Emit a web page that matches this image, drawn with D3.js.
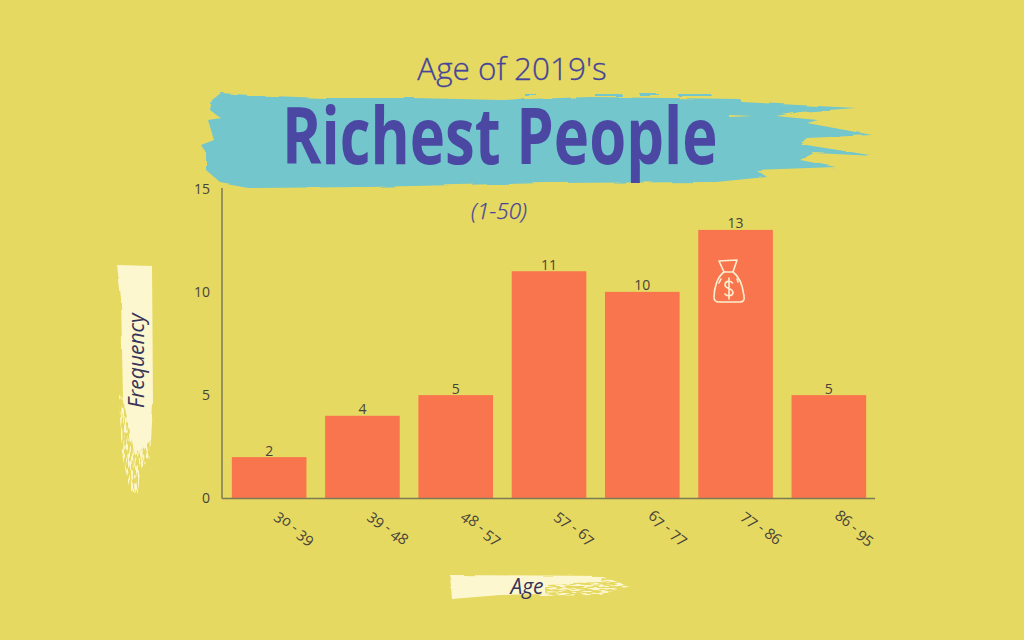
<!DOCTYPE html>
<html><head><meta charset="utf-8">
<script src="https://cdn.jsdelivr.net/npm/d3@7"></script>
<style>
html,body{margin:0;padding:0;background:#e6d961;overflow:hidden}
svg{display:block}
text{font-family:"Open Sans",sans-serif}
.tick text{fill:#46443a;font-size:14px}
.x .tick text{font-family:"Open Sans",sans-serif;font-size:15px;font-variant-numeric:oldstyle-nums;font-feature-settings:"onum"}
</style></head><body>
<svg id="c" width="1024" height="640"></svg>
<script>
const categories=["30 - 39","39 - 48","48 - 57","57 - 67","67 - 77","77 - 86","86 - 95"];
const frequency=[2,4,5,11,10,13,5];
const yTicks=[0,5,10,15];
const svg=d3.select("#c");
svg.append("rect").attr("width",1024).attr("height",640).attr("fill","#e6d961");
const defs=svg.append("defs");
function rough(id,freq,scale){
  const f=defs.append("filter").attr("id",id).attr("x","-5%").attr("y","-15%").attr("width","110%").attr("height","130%");
  f.append("feTurbulence").attr("type","fractalNoise").attr("baseFrequency",freq).attr("numOctaves",2).attr("seed",4).attr("result","n");
  f.append("feDisplacementMap").attr("in","SourceGraphic").attr("in2","n").attr("scale",scale);
}
function dry(id,freq){
  const f=defs.append("filter").attr("id",id).attr("x","-10%").attr("y","-10%").attr("width","120%").attr("height","120%");
  f.append("feTurbulence").attr("type","fractalNoise").attr("baseFrequency",freq).attr("numOctaves",2).attr("seed",7);
  f.append("feColorMatrix").attr("values","0 0 0 0 0 0 0 0 0 0 0 0 0 0 0 6 0 0 0 -2.7").attr("result","m");
  f.append("feComposite").attr("in","SourceGraphic").attr("in2","m").attr("operator","in");
}
rough("roughH","0.03 0.15",3);
rough("roughV","0.15 0.03",3);
dry("dryV","0.6 0.12");
dry("dryH","0.12 0.6");

// brush strokes
const blue=svg.append("g").attr("fill","#72c6cc").attr("filter","url(#roughH)");
blue.append("path").attr("d","M221 93 L248 95 L324 98 L413 98 L502 100 L591 97 L740 99 L742 102 L856 108 L800 112 L776 116 L818 120 L807 123 L872 135 L807 138 L800 144 L876 156 L814 153 L800 160 L836 167 L756 170 L767 177 L716 182 L546 183 L368 187 L248 188 L221 183 L206 170 L206 153 L201 145 L214 140 L208 120 L221 118 L210 110 L212 100 Z");
blue.append("path").attr("d","M525 94 H536 V96 H525 Z M595 94 H622 V96 H595 Z M640 94 H660 V96 H640 Z M678 94 H712 V96 H678 Z");
svg.append("path").attr("fill","#e6d961").attr("d","M729 115 L753 116 L729 117 Z");
svg.append("path").attr("fill","#fdf7cf").attr("filter","url(#roughV)").attr("d","M117 265 L152 266 L153 405 L151 440 L135 455 L128 422 L123 398 L121 298 Z");
svg.append("path").attr("fill","#fdf7cf").attr("filter","url(#dryV)").attr("d","M119 395 L152 420 L150 458 L140 470 L138 495 L130 490 L122 455 Z");
svg.append("path").attr("fill","#fdf7cf").attr("filter","url(#roughH)").attr("d","M450 575 L603 576 L600 583 L545 585 L545 594 L500 595 L452 599 Z");
svg.append("path").attr("fill","#fdf7cf").attr("filter","url(#dryH)").attr("d","M540 582 L603 577 L630 586 L600 595 L540 596 Z");

const x=d3.scaleBand().domain(categories).range([222.5,875.5]).paddingInner(0.2).paddingOuter(0.1);
const y=d3.scaleLinear().domain([0,15]).range([498.4,188.6]);

// bars
svg.append("g").selectAll("rect").data(frequency).join("rect")
  .attr("x",(d,i)=>x(categories[i])).attr("width",x.bandwidth())
  .attr("y",d=>y(d)).attr("height",d=>y(0)-y(d)).attr("fill","#f8754e");
svg.append("g").selectAll("text").data(frequency).join("text")
  .attr("x",(d,i)=>x(categories[i])+x.bandwidth()/2).attr("y",d=>y(d)-1.5)
  .attr("text-anchor","middle").attr("font-size",14).attr("fill","#46443a").text(d=>d);

// axes
const gy=svg.append("g").attr("transform","translate(222,0)")
  .call(d3.axisLeft(y).tickValues(yTicks).tickSize(0).tickPadding(12));
gy.select(".domain").attr("stroke","#7d7a58").attr("stroke-width",1.5).attr("d","M0,188V498.5");
const gx=svg.append("g").attr("class","x").attr("transform","translate(0,498.5)")
  .call(d3.axisBottom(x).tickSize(0).tickPadding(0));
gx.select(".domain").attr("stroke","#7d7a58").attr("stroke-width",1.5).attr("d","M222,0H875");
gx.selectAll("text").attr("text-anchor","middle").attr("dy",0).attr("y",0)
  .attr("transform","translate(23,33) rotate(38)");

// titles
svg.append("text").attr("x",512).attr("y",80).attr("text-anchor","middle").attr("font-size",31.5).attr("font-weight",300).attr("stroke","#45449a").attr("stroke-width",0.3).attr("fill","#45449a").text("Age of 2019's");
svg.append("text").attr("transform","translate(282,164) scale(0.757,1)").attr("font-size",79).attr("font-weight",700).attr("fill","#4b48a4").text("Richest People");
svg.append("text").attr("x",499).attr("y",219).attr("text-anchor","middle").attr("font-size",22.5).attr("font-weight",300).attr("font-style","italic").attr("stroke","#45449a").attr("stroke-width",0.25).attr("fill","#45449a").text("(1-50)");
svg.append("text").attr("transform","translate(144,408) rotate(-90)").attr("font-size",21).attr("font-style","italic").attr("fill","#37345a").text("Frequency");
svg.append("text").attr("x",527).attr("y",594).attr("text-anchor","middle").attr("font-size",21).attr("font-style","italic").attr("fill","#37345a").text("Age");

// money bag icon
const ic=svg.append("g").attr("transform","translate(729,283)").attr("fill","none").attr("stroke","#fdf0d0").attr("stroke-width",1.6).attr("stroke-linejoin","round").attr("stroke-linecap","round");
ic.append("path").attr("d","M-10,-22 L8,-23 L4,-11 L-5,-11 Z");
ic.append("path").attr("d","M-5,-11 C-12,-6 -15,6 -15,14 Q-15,19 -10,19 L11,19 Q16,19 15,13 C14,5 11,-6 4,-11");
ic.append("path").attr("d","M-8,-4 L-10,0 M8,-4 L9,-1");
ic.append("path").attr("d","M3.5,0 C1,-3 -4,-2 -4,2 C-4,6 4,5 4,9.5 C4,13 -2,14 -4,11 M0,-5 V16");
</script></body></html>
